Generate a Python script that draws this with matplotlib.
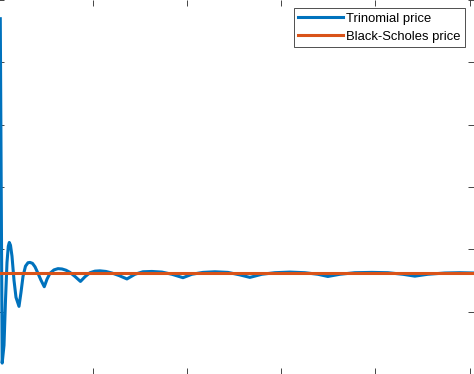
import matplotlib
matplotlib.use('Agg')
import matplotlib.pyplot as plt

plt.rcParams['font.family'] = ['Liberation Sans', 'DejaVu Sans']

# number of time steps and trinomial prices
steps = [2.0, 4.0, 5.94, 7.53, 9.12, 10.50, 11.56, 12.83, 14.42, 16.54, 18.66, 21.85,
         23.97, 26.09, 28.74, 31.39, 33.51, 36.16, 38.81, 42.00, 45.18, 48.67,
         51.54, 54.72, 58.96, 63.20, 67.45, 71.69, 75.93, 81.23, 87.06,
         91.83, 97.14, 102.44, 107.74, 114.10, 120.47, 127.89, 136.37,
         144.9, 153.3, 162.9, 173.5, 184.1, 195.8, 205.3, 217.0, 229.7, 243.5, 256.2,
         266.8, 279.5, 293.3, 309.2, 325.1, 338.9, 349.5, 362.3, 378.2, 396.2, 413.2,
         429.1, 441.8, 455.6, 473.6, 489.5, 505.0]
trinomial = [10.5340, 10.4235, 10.4292, 10.4437, 10.4558, 10.4610, 10.4622, 10.4613,
             10.4578, 10.4501, 10.4446, 10.4417,
             10.4462, 10.4513, 10.4546, 10.4557, 10.4558, 10.4555, 10.4544, 10.4523,
             10.4501, 10.4480,
             10.4504, 10.4523, 10.4534, 10.4538, 10.4537, 10.4533, 10.4526, 10.4513,
             10.4497,
             10.4512, 10.4525, 10.4530, 10.4531, 10.4529, 10.4524, 10.4516, 10.4505,
             10.4520, 10.4528, 10.4529, 10.4527, 10.4520, 10.4509,
             10.4520, 10.4526, 10.4528, 10.4526, 10.4518, 10.4510, 10.4520, 10.4525,
             10.4527, 10.4525, 10.4520, 10.4513, 10.4520, 10.4525, 10.4526, 10.4525,
             10.4520, 10.4514, 10.4520, 10.4524, 10.4525, 10.4524]
bs_price = 10.4523

x_ticks = [0, 100, 200, 300, 400, 500]
y_ticks = [10.42, 10.44, 10.46, 10.48, 10.50, 10.52, 10.54]

fig = plt.figure(figsize=(4.74, 3.74), dpi=100)
# axes fill the whole picture (the reference is cropped inside the frame)
ax = fig.add_axes([-1.6 / 474, 0.0, 476 / 474, 1.0])

ax.plot(steps, trinomial, color='#0072BD', lw=2.2, label='Trinomial price',
        solid_joinstyle='round')
ax.plot([0, 505], [bs_price, bs_price], color='#D95319', lw=2.2, label='Black-Scholes price')

ax.set_xlim(0, 505)
ax.set_ylim(10.42, 10.54)
ax.set_xticks(x_ticks)
ax.set_yticks(y_ticks)
ax.tick_params(direction='in', length=4, width=0.6, color='#262626',
               top=True, right=True, labelbottom=False, labelleft=False)
for s in ax.spines.values():
  s.set_visible(False)

leg = ax.legend(loc='upper right', bbox_to_anchor=(465 / 474, 1 - 8 / 374),
                bbox_transform=fig.transFigure, borderaxespad=0, fontsize=9.4,
                handlelength=3.4, handletextpad=0.25, borderpad=0.35, labelspacing=0.45,
                fancybox=False, framealpha=1)
leg.get_frame().set_edgecolor('#333333')
leg.get_frame().set_linewidth(0.6)

fig.savefig('out.png', dpi=100)
